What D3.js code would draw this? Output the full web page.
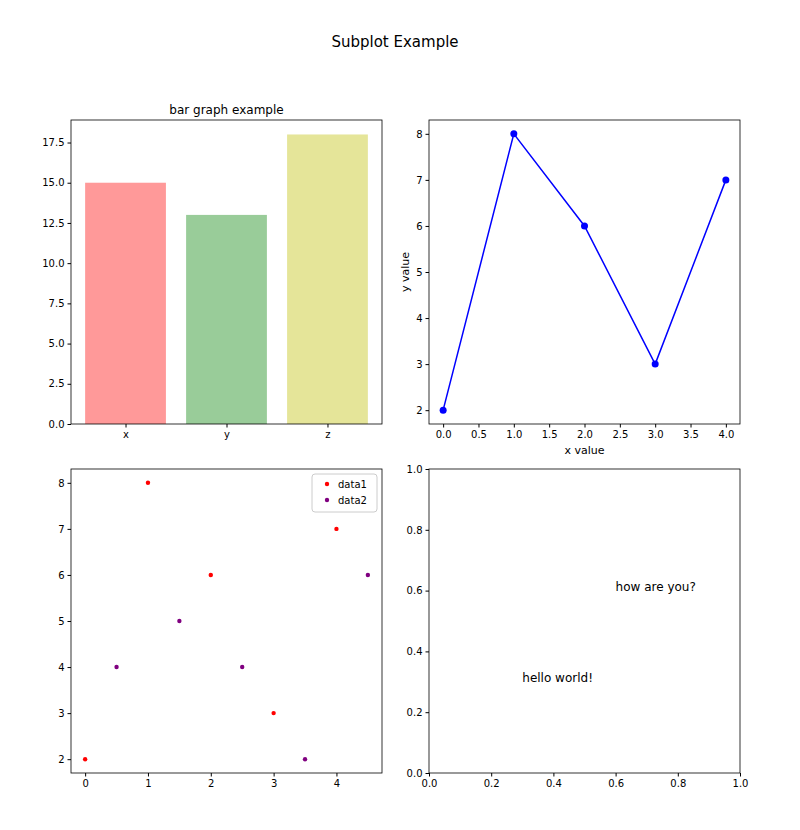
<!DOCTYPE html>
<html><head><meta charset="utf-8">
<script src="https://cdn.jsdelivr.net/npm/d3@7"></script>
<style>body{margin:0;background:#fff}text{font-family:"DejaVu Sans",sans-serif}</style>
</head><body><svg id="c" width="800" height="830"></svg>
<script>
const barCats = ["x","y","z"];
const barVals = [15,13,18];
const barColors = ["#ff9999","#99cc99","#e5e599"];
const lineX = [0,1,2,3,4];
const lineY = [2,8,6,3,7];
const d1X = [0,1,2,3,4], d1Y = [2,8,6,3,7];
const d2X = [0.5,1.5,2.5,3.5,4.5], d2Y = [4,5,4,2,6];
const texts = [{x:0.3,y:0.3,t:"hello world!"},{x:0.6,y:0.6,t:"how are you?"}];

const svg = d3.select("#c");
svg.append("text").attr("x",395).attr("y",47).attr("text-anchor","middle").attr("font-size",15).text("Subplot Example");

function frame(x0,y0){
  const g = svg.append("g");
  return {g, L:x0, R:x0+311, T:y0, B:y0+304};
}
function axes(p,xs,ys,xt,yt,xf,yf){
  const ax = p.g.append("g").attr("transform",`translate(0,${p.B})`).call(d3.axisBottom(xs).tickValues(xt).tickFormat(xf).tickSizeOuter(0).tickSize(3.5).tickPadding(3));
  const ay = p.g.append("g").attr("transform",`translate(${p.L},0)`).call(d3.axisLeft(ys).tickValues(yt).tickFormat(yf).tickSizeOuter(0).tickSize(3.5).tickPadding(3));
  [ax,ay].forEach(a=>{a.select(".domain").remove();a.selectAll("text").attr("font-size",10).attr("font-family","DejaVu Sans")});
  p.g.append("rect").attr("x",p.L).attr("y",p.T).attr("width",p.R-p.L).attr("height",p.B-p.T).attr("fill","none").attr("stroke","#000").attr("stroke-width",0.8);
}

// 1 bar
{
  const p = frame(71,120);
  const xs = d3.scaleLinear().domain([-0.54,2.54]).range([p.L,p.R]);
  const ys = d3.scaleLinear().domain([0,18.9]).range([p.B,p.T]);
  p.g.selectAll("rect.b").data(barVals).join("rect").attr("x",(d,i)=>xs(i-0.4)).attr("width",xs(0.8)-xs(0))
    .attr("y",d=>ys(d)).attr("height",d=>ys(0)-ys(d)).attr("fill",(d,i)=>barColors[i]);
  axes(p,xs,ys,[0,1,2],d3.range(0,18,2.5),i=>barCats[i],d3.format(".1f"));
  p.g.append("text").attr("x",(p.L+p.R)/2).attr("y",p.T-6).attr("text-anchor","middle").attr("font-size",12).text("bar graph example");
}
// 2 line
{
  const p = frame(429,120);
  const xs = d3.scaleLinear().domain([-0.2,4.2]).range([p.L,p.R]);
  const ys = d3.scaleLinear().domain([1.7,8.3]).range([p.B,p.T]);
  const pts = lineX.map((x,i)=>[x,lineY[i]]);
  p.g.append("path").attr("d",d3.line().x(d=>xs(d[0])).y(d=>ys(d[1]))(pts)).attr("fill","none").attr("stroke","blue").attr("stroke-width",1.5);
  p.g.selectAll("circle").data(pts).join("circle").attr("cx",d=>xs(d[0])).attr("cy",d=>ys(d[1])).attr("r",3.5).attr("fill","blue");
  axes(p,xs,ys,d3.range(0,4.01,0.5),d3.range(2,9),d3.format(".1f"),d3.format("d"));
  p.g.append("text").attr("x",(p.L+p.R)/2).attr("y",p.B+30).attr("text-anchor","middle").attr("font-size",11).text("x value");
  p.g.append("text").attr("transform",`translate(${p.L-20},${(p.T+p.B)/2}) rotate(-90)`).attr("text-anchor","middle").attr("font-size",11).text("y value");
}
// 3 scatter
{
  const p = frame(71,469);
  const xs = d3.scaleLinear().domain([-0.225,4.725]).range([p.L,p.R]);
  const ys = d3.scaleLinear().domain([1.7,8.3]).range([p.B,p.T]);
  p.g.selectAll("circle.a").data(d1X).join("circle").attr("cx",d=>xs(d)).attr("cy",(d,i)=>ys(d1Y[i])).attr("r",2.2).attr("fill","red");
  p.g.selectAll("circle.b").data(d2X).join("circle").attr("cx",d=>xs(d)).attr("cy",(d,i)=>ys(d2Y[i])).attr("r",2.2).attr("fill","purple");
  axes(p,xs,ys,d3.range(0,5),d3.range(2,9),d3.format("d"),d3.format("d"));
  const lg = p.g.append("g").attr("transform",`translate(${p.R-70},${p.T+5})`);
  lg.append("rect").attr("width",65).attr("height",38).attr("rx",3).attr("fill","#fff").attr("stroke","#ccc");
  [["data1","red"],["data2","purple"]].forEach((d,i)=>{
    lg.append("circle").attr("cx",15).attr("cy",10+i*16).attr("r",2.2).attr("fill",d[1]);
    lg.append("text").attr("x",26).attr("y",14+i*16).attr("font-size",10).text(d[0]);
  });
}
// 4 text
{
  const p = frame(429,469);
  const xs = d3.scaleLinear().domain([0,1]).range([p.L,p.R]);
  const ys = d3.scaleLinear().domain([0,1]).range([p.B,p.T]);
  axes(p,xs,ys,d3.range(0,1.01,0.2),d3.range(0,1.01,0.2),d3.format(".1f"),d3.format(".1f"));
  p.g.selectAll("text.t").data(texts).join("text").attr("x",d=>xs(d.x)).attr("y",d=>ys(d.y)).attr("font-size",12).text(d=>d.t);
}
</script></body></html>
